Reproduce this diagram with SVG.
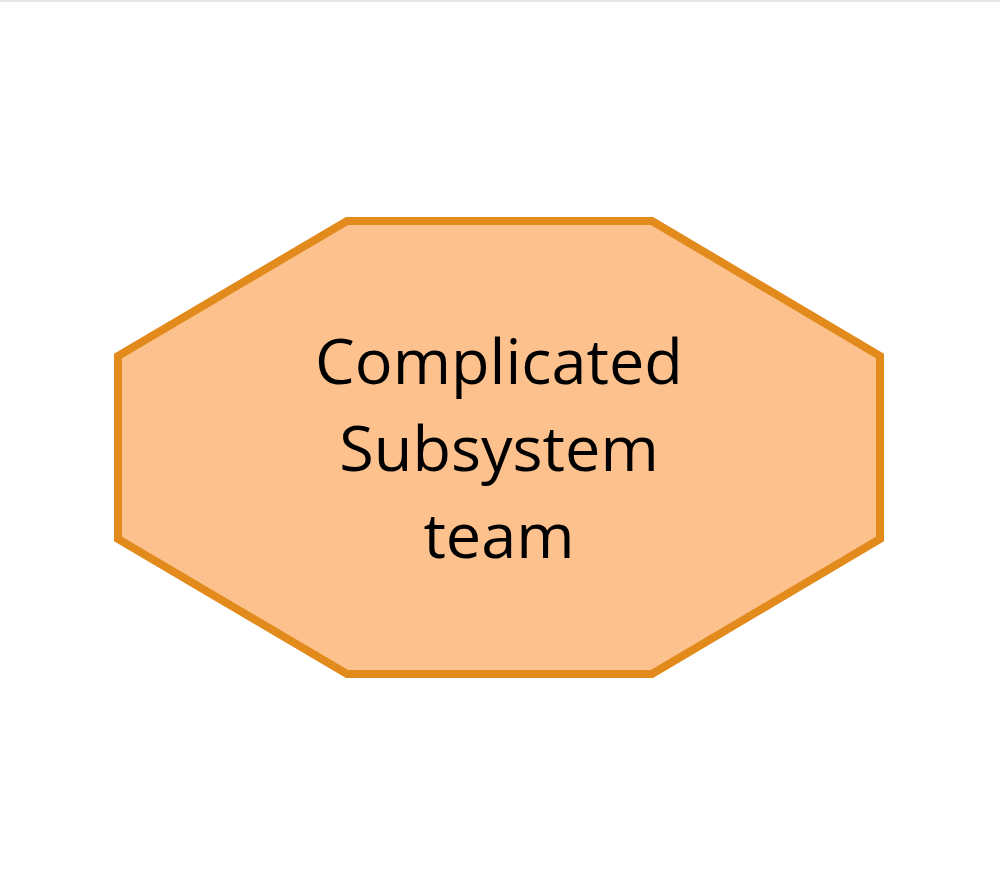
<svg xmlns="http://www.w3.org/2000/svg" width="1000" height="892" viewBox="0 0 1000 892">
<style>
.node{fill:#FCC18D;stroke:#E38A1D;stroke-width:8;stroke-linejoin:miter}
.lbl{font-family:"Open Sans","Noto Sans",sans-serif;font-size:63px;fill:#000;text-anchor:middle}
</style>
<rect x="0" y="0" width="1000" height="892" fill="#fff"/>
<rect x="0" y="0" width="1000" height="2" fill="#e6e6e6"/>
<g id="connectors"/>
<g id="node-complicated-subsystem">
<polygon class="node" points="347,221 652,221 880,356 880,539 652,674 347,674 118,539 118,356"/>
<text class="lbl" x="499" y="384">Complicated</text>
<text class="lbl" x="499" y="471">Subsystem</text>
<text class="lbl" x="499" y="558">team</text>
</g>
</svg>
